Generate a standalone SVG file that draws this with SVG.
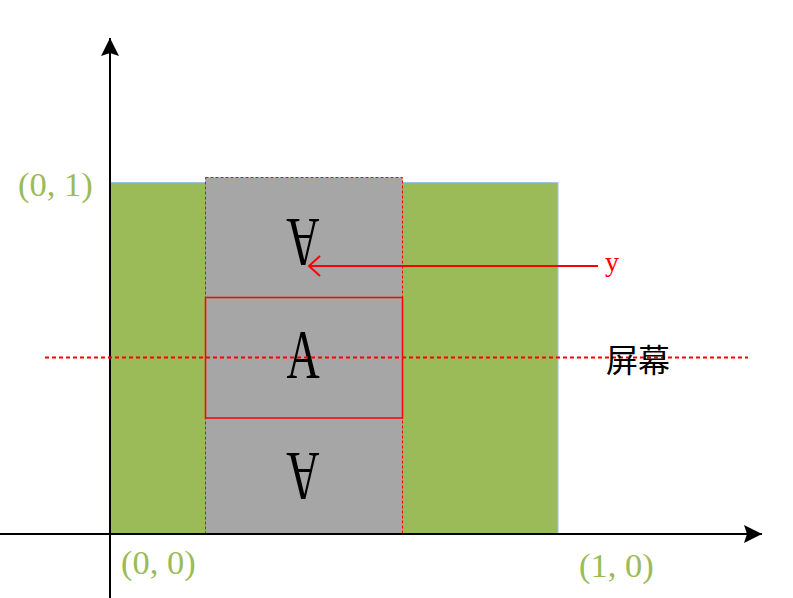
<svg xmlns="http://www.w3.org/2000/svg" width="793" height="598" viewBox="0 0 793 598">
<style>
.lbl{font-family:"Liberation Serif","Noto Sans CJK SC",serif;font-size:34.5px;fill:#9BBB59}
.glyph{font-family:"Liberation Serif",serif;font-size:46px;fill:#000;text-anchor:middle}
.axis{stroke:#000;stroke-width:2;fill:none}
</style>
<defs>
<marker id="axArrow" markerWidth="20" markerHeight="20" refX="18" refY="9" orient="auto" markerUnits="userSpaceOnUse">
<path d="M0,0 L18,9 L0,18 L3,9 Z" fill="#000"/>
</marker>
<marker id="openArrow" markerWidth="16" markerHeight="24" refX="12" refY="11" orient="auto" markerUnits="userSpaceOnUse">
<path d="M1,1 L12,11 L1,21" fill="none" stroke="#FF0000" stroke-width="2"/>
</marker>
</defs>
<rect width="793" height="598" fill="#fff"/>
<g id="plane">
<rect x="110.5" y="182.5" width="447.5" height="351.5" fill="#9BBB59" stroke="#9DC3E6" stroke-width="1"/>
</g>
<g id="texture">
<rect x="205.5" y="177.5" width="197" height="356.5" fill="#A6A6A6" stroke="#FF0000" stroke-width="1" stroke-dasharray="3,2"/>
<text class="glyph" transform="translate(303,219) scale(-1,-1.5)">A</text>
<text class="glyph" transform="translate(303,378) scale(1,1.5)">A</text>
<text class="glyph" transform="translate(303,453) scale(-1,-1.5)">A</text>
</g>
<g id="screen-rect">
<rect x="205.5" y="297.5" width="197" height="120.5" fill="none" stroke="#FF0000" stroke-width="1.5"/>
</g>
<g id="connectors">
<line class="axis" x1="0" y1="534" x2="762" y2="534" marker-end="url(#axArrow)"/>
<line class="axis" x1="110" y1="598" x2="110" y2="38" marker-end="url(#axArrow)"/>
<line x1="45" y1="357.5" x2="748" y2="357.5" stroke="#FF0000" stroke-width="2" stroke-dasharray="4,3"/>
<line x1="598" y1="266" x2="309" y2="266" stroke="#FF0000" stroke-width="2" marker-end="url(#openArrow)"/>
</g>
<g id="labels">
<text class="lbl" x="18" y="196">(0, 1)</text>
<text class="lbl" x="121" y="574">(0, 0)</text>
<text class="lbl" x="579" y="577">(1, 0)</text>
<text x="605" y="271" font-family="Liberation Serif,serif" font-size="28" fill="#FF0000">y</text>
<text x="606" y="372" font-family="Noto Sans CJK SC,sans-serif" font-size="32" fill="#000">屏幕</text>
</g>
</svg>
